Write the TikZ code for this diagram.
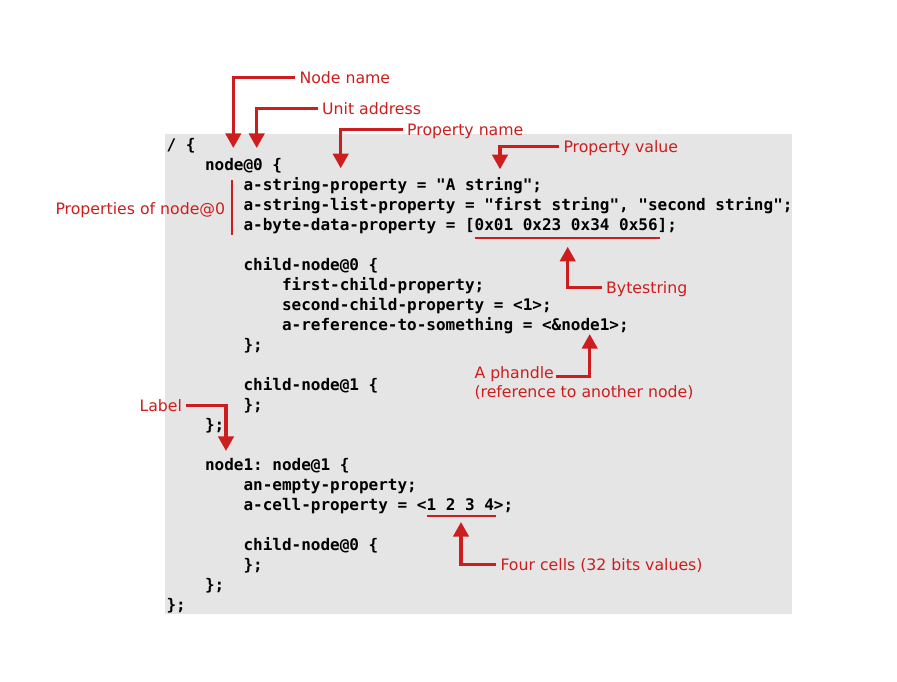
\documentclass[tikz,border=0pt]{standalone}
\usepackage{fontspec}
\setmainfont{DejaVu Sans}
\setmonofont{DejaVu Sans Mono}
\usetikzlibrary{arrows.meta,calc}
\definecolor{annot}{RGB}{204,30,30}
\definecolor{codebg}{RGB}{229,229,229}
\tikzset{every picture/.style={line width=0.75pt},
  code/.style={anchor=base west, inner sep=0pt, font=\ttfamily\bfseries\fontsize{12}{14}\selectfont},
  note/.style={anchor=base west, inner xsep=3pt, inner ysep=0pt, text height=8.6pt, text depth=0pt, text=annot, font=\fontsize{11.8}{14}\selectfont},
  pointer/.style={draw=annot, line width=2.5pt, -{Triangle[length=11pt,width=11.5pt]}},
  underscore/.style={draw=annot, line width=1.5pt}}

\begin{document}
\begin{tikzpicture}[x=0.75pt,y=0.75pt,yscale=-1,xscale=1]
\useasboundingbox (0,0) rectangle (897,682);

%Shape: Rectangle
\fill [codebg] (165,134) rectangle (792,614);

% Text Node
\node[code] (root) at (166,150) {/ \{};
\node[code] (nodezero) at (204.5,170) {node@0 \{};
\node[code] (strprop) at (243,190) {a-string-property = "A string";};
\node[code] (listprop) at (243,210) {a-string-list-property = "first string", "second string";};
\node[code] (byteprop) at (243,230) {a-byte-data-property = [0x01 0x23 0x34 0x56];};
\node[code] (childzero) at (243,270) {child-node@0 \{};
\node[code] (firstprop) at (281.5,290) {first-child-property;};
\node[code] (secondprop) at (281.5,310) {second-child-property = <1>;};
\node[code] (refprop) at (281.5,330) {a-reference-to-something = <\&node1>;};
\node[code] (childzeroend) at (243,350) {\};};
\node[code] (childone) at (243,390) {child-node@1 \{};
\node[code] (childoneend) at (243,410) {\};};
\node[code] (nodezeroend) at (204.5,430) {\};};
\node[code] (nodeone) at (204.5,470) {node1: node@1 \{};
\node[code] (emptyprop) at (243,490) {an-empty-property;};
\node[code] (cellprop) at (243,510) {a-cell-property = <1 2 3 4>;};
\node[code] (subchild) at (243,550) {child-node@0 \{};
\node[code] (subchildend) at (243,570) {\};};
\node[code] (nodeoneend) at (204.5,590) {\};};
\node[code] (rootend) at (166,610) {\};};

% Text Node
\node[note] (nodename) at (295,83) {Node name};
\node[note] (unitaddr) at (317.7,114) {Unit address};
\node[note] (propname) at (402.7,135) {Property name};
\node[note] (propvalue) at (559,152) {Property value};
\node[note] (propsof) at (51,214) {Properties of node@0};
\node[note] (bytestring) at (601.7,293) {Bytestring};
\node[note] (phandle) at (470,378) {A phandle};
\node[note] (phandlenote) at (470,397) {(reference to another node)};
\node[note] (labelnote) at (135,411) {Label};
\node[note] (fourcells) at (496,570) {Four cells (32 bits values)};

% Arrow tips
\coordinate (tipname) at (233.3,148);
\coordinate (tipunit) at (256.7,148);
\coordinate (tipprop) at (340.7,168.3);
\coordinate (tipvalue) at (500,169.3);
\coordinate (tipbytes) at (567.7,246.7);
\coordinate (tipphandle) at (589.7,334);
\coordinate (tiplabel) at (226,451);
\coordinate (tipcells) at (461,522);

%Straight Lines
\draw[pointer] (nodename.west) -| (tipname);
\draw[pointer] (unitaddr.west) -| (tipunit);
\draw[pointer] (propname.west) -| (tipprop);
\draw[pointer] (propvalue.west) -| (tipvalue);
\draw[pointer] (bytestring.west) -| (tipbytes);
\draw[pointer] ($(phandle.base east)+(-2,-1.5)$) -| (tipphandle);
\draw[pointer] (labelnote.east) -| (tiplabel);
\draw[pointer] (fourcells.west) -| (tipcells);

%Straight Lines
\draw[underscore] (232,180) -- (232,235);
\draw[underscore] (475,238) -- (660,238);
\draw[underscore] (427,516) -- (496,516);

\end{tikzpicture}
\end{document}
